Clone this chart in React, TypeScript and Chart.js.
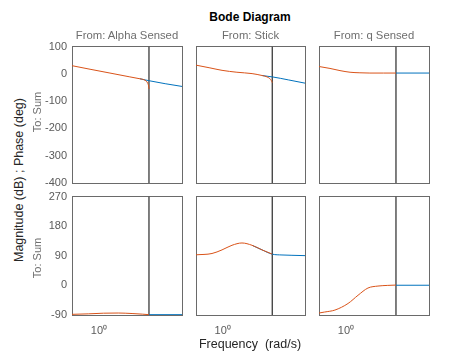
import React, { useEffect, useRef } from "react";
import { Chart, registerables } from "chart.js";
Chart.register(...registerables);

const FONT = '"Liberation Sans", Arial, Helvetica, sans-serif';
const RED = "#D95319";
const BLUE = "#0072BD";
const BOX = "#6a6a6a";
const TICK = "#5a5a5a";

// Frequency axis (rad/s), log scale
const FREQ_MIN = 0.569;
const FREQ_MAX = 5.69;
const X_TICKS = [1];
const CROSSOVER = 2.85;

// Titles
const TITLE = "Bode Diagram";
const INPUTS = ["From: Alpha Sensed", "From: Stick", "From: q Sensed"];
const OUTPUT = "To: Sum";
const YLABEL = "Magnitude (dB) ; Phase (deg)";
const XLABEL = "Frequency  (rad/s)";

// Magnitude axis & phase axis
const MAG_RANGE = [-400, 100];
const MAG_STEP = 100;
const PHASE_RANGE = [-90, 270];
const PHASE_STEP = 90;

// From: Alpha Sensed — magnitude
const alphaMagRedF = [0.569, 0.83, 1.26, 1.91, 2.36, 2.55, 2.7, 2.78, 2.83, 2.85];
const alphaMagRed = [30, 17, 3, -11, -18, -21, -27, -35, -45, -55];
const alphaMagBlueF = [2.36, 2.62, 2.85, 4.0, 5.69];
const alphaMagBlue = [-18, -22, -25, -36, -46];
// From: Stick — magnitude
const stickMagRedF = [0.569, 0.764, 0.986, 1.35, 1.86, 2.3, 2.55, 2.7, 2.8, 2.85];
const stickMagRed = [32, 22, 13, 6, 1, -6, -11, -17, -25, -32];
const stickMagBlueF = [2.3, 2.6, 2.85, 4.0, 5.69];
const stickMagBlue = [-6, -9, -11, -22, -34];
// From: q Sensed — magnitude
const qMagRedF = [0.569, 0.716, 0.883, 1.09, 1.34, 1.65, 2.2, 2.85];
const qMagRed = [27, 20, 12, 6, 4, 3, 3, 3];
const qMagBlueF = [2.85, 5.69];
const qMagBlue = [3, 3];

// From: Alpha Sensed — phase
const alphaPhRedF = [0.569, 0.8, 1.1, 1.5, 2.0, 2.5, 2.85];
const alphaPhRed = [-88, -86.5, -84.5, -84, -85.5, -87.5, -89];
const alphaPhBlueF = [2.85, 5.69];
const alphaPhBlue = [-89, -89];
// From: Stick — phase
const stickPhRedF = [0.569, 0.798, 0.986, 1.217, 1.503, 1.856, 2.296, 2.85];
const stickPhRed = [93, 97, 108, 122, 129, 122, 108, 95];
const stickPhBlueF = [1.856, 2.296, 2.85, 3.5, 4.32, 5.69];
const stickPhBlue = [122, 108, 95, 92.5, 91.5, 90.5];
// From: q Sensed — phase
const qPhRedF = [0.569, 0.64, 0.794, 1.045, 1.288, 1.585, 1.954, 2.4, 2.85];
const qPhRed = [-84, -81, -75, -55, -30, -8, -2, 0, 1];
const qPhBlueF = [2.85, 5.69];
const qPhBlue = [0.5, 0.5];

const pts = (f: number[], v: number[]) => f.map((x, i) => ({ x, y: v[i] }));

const COLS = [
  { x: 72, w: 110 },
  { x: 196, w: 109 },
  { x: 319, w: 110 },
];
const ROWS = [
  { y: 43, h: 140 },
  { y: 193, h: 122 },
];

const LP = 44, TP = 8, RP = 6, BP = 30;

type PanelProps = {
  col: number;
  row: number;
  red: { x: number; y: number }[];
  blue: { x: number; y: number }[];
};

function Panel({ col, row, red, blue }: PanelProps) {
  const ref = useRef<HTMLCanvasElement>(null);
  const c = COLS[col];
  const r = ROWS[row];
  const range = row === 0 ? MAG_RANGE : PHASE_RANGE;
  const step = row === 0 ? MAG_STEP : PHASE_STEP;
  const showY = col === 0;
  const showX = row === 1;
  useEffect(() => {
    const chart = new Chart(ref.current as HTMLCanvasElement, {
      type: "scatter",
      data: {
        datasets: [
          {
            data: red,
            borderColor: RED,
            borderWidth: 1,
            showLine: true,
            pointRadius: 0,
            cubicInterpolationMode: "monotone",
            order: 1,
          },
          {
            data: blue,
            borderColor: BLUE,
            borderWidth: 1,
            showLine: true,
            pointRadius: 0,
            cubicInterpolationMode: "monotone",
            order: 2,
          },
          {
            data: [
              { x: CROSSOVER, y: range[0] },
              { x: CROSSOVER, y: range[1] },
            ],
            borderColor: "#3a3a3a",
            borderWidth: 1.3,
            showLine: true,
            pointRadius: 0,
            order: 3,
          },
        ],
      },
      options: {
        animation: false,
        responsive: false,
        devicePixelRatio: 1,
        layout: { padding: 0 },
        plugins: { legend: { display: false }, tooltip: { enabled: false } },
        scales: {
          x: {
            type: "logarithmic",
            position: "bottom",
            min: FREQ_MIN,
            max: FREQ_MAX,
            afterBuildTicks: (s: any) => {
              s.ticks = X_TICKS.map((v) => ({ value: v }));
            },
            ticks: {
              display: showX,
              callback: (v: any) => (v === 1 ? "10\u2070" : ""),
              color: TICK,
              font: { family: FONT, size: 11 },
              padding: 9,
              maxRotation: 0,
              autoSkip: false,
            },
            grid: { display: false, drawTicks: false },
            border: { display: true, color: BOX, width: 1 },
            afterFit: (s: any) => {
              s.height = BP;
            },
          },
          y: {
            type: "linear",
            position: "left",
            min: range[0],
            max: range[1],
            ticks: {
              stepSize: step,
              callback: (v: any) => (showY ? String(v) : ""),
              color: TICK,
              font: { family: FONT, size: 11 },
              padding: 5,
            },
            grid: { display: false, drawTicks: false },
            border: { display: true, color: BOX, width: 1 },
            afterFit: (s: any) => {
              s.width = LP;
            },
          },
          xTop: {
            type: "linear",
            position: "top",
            ticks: { display: false },
            grid: { display: false, drawTicks: false },
            border: { display: true, color: BOX, width: 1 },
            afterFit: (s: any) => {
              s.height = TP;
            },
          },
          yRight: {
            type: "linear",
            position: "right",
            ticks: { display: false },
            grid: { display: false, drawTicks: false },
            border: { display: true, color: BOX, width: 1 },
            afterFit: (s: any) => {
              s.width = RP;
            },
          },
        },
      } as any,
    });
    return () => chart.destroy();
  }, []);
  return (
    <canvas
      ref={ref}
      width={c.w + LP + RP}
      height={r.h + TP + BP}
      style={{ position: "absolute", left: c.x - LP, top: r.y - TP }}
    />
  );
}

function Rot({ text, cx, cy, size, color }: { text: string; cx: number; cy: number; size: number; color: string }) {
  const w = 220, h = 16;
  return (
    <div
      style={{
        position: "absolute",
        left: cx - w / 2,
        top: cy - h / 2,
        width: w,
        height: h,
        lineHeight: h + "px",
        textAlign: "center",
        fontSize: size,
        color,
        transform: "rotate(-90deg)",
        whiteSpace: "pre",
      }}
    >
      {text}
    </div>
  );
}

export default function App() {
  const txt = (text: string, cx: number, cy: number, size: number, color: string, bold = false) => (
    <div
      style={{
        position: "absolute",
        left: cx - 120,
        top: cy - 8,
        width: 240,
        height: 16,
        lineHeight: "16px",
        textAlign: "center",
        fontSize: size,
        color,
        fontWeight: bold ? "bold" : "normal",
        whiteSpace: "pre",
      }}
    >
      {text}
    </div>
  );
  return (
    <div
      style={{
        position: "absolute",
        left: 0,
        top: 0,
        width: 474,
        height: 355,
        background: "#fff",
        fontFamily: FONT,
        overflow: "hidden",
      }}
    >
      <Panel col={0} row={0} red={pts(alphaMagRedF, alphaMagRed)} blue={pts(alphaMagBlueF, alphaMagBlue)} />
      <Panel col={1} row={0} red={pts(stickMagRedF, stickMagRed)} blue={pts(stickMagBlueF, stickMagBlue)} />
      <Panel col={2} row={0} red={pts(qMagRedF, qMagRed)} blue={pts(qMagBlueF, qMagBlue)} />
      <Panel col={0} row={1} red={pts(alphaPhRedF, alphaPhRed)} blue={pts(alphaPhBlueF, alphaPhBlue)} />
      <Panel col={1} row={1} red={pts(stickPhRedF, stickPhRed)} blue={pts(stickPhBlueF, stickPhBlue)} />
      <Panel col={2} row={1} red={pts(qPhRedF, qPhRed)} blue={pts(qPhBlueF, qPhBlue)} />
      {txt(TITLE, 250, 17, 12, "#000", true)}
      {INPUTS.map((t, i) => (
        <React.Fragment key={t}>{txt(t, COLS[i].x + COLS[i].w / 2, 35, 11.3, "#6e6e6e")}</React.Fragment>
      ))}
      {txt(XLABEL, 250, 344, 12.5, "#262626")}
      <Rot text={YLABEL} cx={19} cy={180} size={12.5} color="#262626" />
      <Rot text={OUTPUT} cx={37} cy={112} size={11} color="#6e6e6e" />
      <Rot text={OUTPUT} cx={37} cy={258} size={11} color="#6e6e6e" />
    </div>
  );
}
